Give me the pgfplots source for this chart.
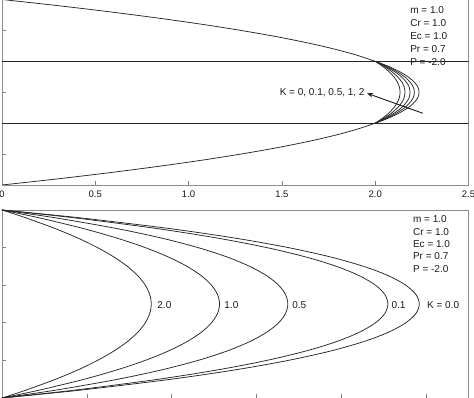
\documentclass[border=0pt]{standalone}
\usepackage{fontspec}
\setmainfont{Liberation Sans}
\usepackage{pgfplots}
\pgfplotsset{compat=1.18}
\usetikzlibrary{arrows.meta}

\begin{document}
\begin{tikzpicture}
\tikzset{lab/.style={font=\fontsize{10}{12}\selectfont, text=black!90, inner sep=0pt}}
\pgfplotsset{
  every axis/.append style={scale only axis,
    axis line style={black!45, line width=0.8pt},
    tick style={black!50, line width=0.6pt},
    tick align=inside, major tick length=4pt, tick pos=left,
    /pgf/number format/assume math mode=true,
    tick label style={font=\fontsize{9.5}{11}\selectfont, text=black!90}},
  curve/.style={black!85, line width=0.75pt, smooth, no markers},
}
% ---------------- top panel ----------------
\begin{axis}[at={(2pt,213pt)}, anchor=south west, width=466.5pt, height=185.5pt,
  xmin=0, xmax=2.5, ymin=0, ymax=3,
  xtick={0,0.5,1,1.5,2,2.5}, xticklabels={0,0.5,1.0,1.5,2.0,2.5},
  ytick={0.5,1,1.5,2,2.5}, yticklabels={},
  xticklabel style={yshift=-2pt}]
\addplot[black!85, line width=1pt] coordinates {(0,2) (2.5,2)};
\addplot[black!85, line width=1pt] coordinates {(0,1) (2.5,1)};
\addplot[curve] coordinates {(0,3) (0.301,2.9) (0.579,2.8) (0.835,2.7) (1.069,2.6) (1.28,2.5) (1.469,2.4) (1.635,2.3) (1.779,2.2) (1.901,2.1) (2,2)};
\addplot[curve] coordinates {(0,0) (0.301,0.1) (0.579,0.2) (0.835,0.3) (1.069,0.4) (1.28,0.5) (1.469,0.6) (1.635,0.7) (1.779,0.8) (1.901,0.9) (2,1)};
% K = 0
\addplot[curve] coordinates {(2,2) (2.045,1.95) (2.085,1.9) (2.120,1.85) (2.150,1.8) (2.176,1.75) (2.197,1.7) (2.214,1.65) (2.226,1.6) (2.233,1.55) (2.235,1.5) (2.233,1.45) (2.226,1.4) (2.214,1.35) (2.197,1.3) (2.176,1.25) (2.150,1.2) (2.120,1.15) (2.085,1.1) (2.045,1.05) (2,1)};
% K = 0.1
\addplot[curve] coordinates {(2,2) (2.040,1.95) (2.076,1.9) (2.107,1.85) (2.134,1.8) (2.158,1.75) (2.176,1.7) (2.191,1.65) (2.202,1.6) (2.208,1.55) (2.21,1.5) (2.208,1.45) (2.202,1.4) (2.191,1.35) (2.176,1.3) (2.158,1.25) (2.134,1.2) (2.107,1.15) (2.076,1.1) (2.040,1.05) (2,1)};
% K = 0.5
\addplot[curve] coordinates {(2,2) (2.036,1.95) (2.067,1.9) (2.095,1.85) (2.120,1.8) (2.140,1.75) (2.157,1.7) (2.170,1.65) (2.180,1.6) (2.185,1.55) (2.187,1.5) (2.185,1.45) (2.180,1.4) (2.170,1.35) (2.157,1.3) (2.140,1.25) (2.120,1.2) (2.095,1.15) (2.067,1.1) (2.036,1.05) (2,1)};
% K = 1
\addplot[curve] coordinates {(2,2) (2.030,1.95) (2.058,1.9) (2.082,1.85) (2.102,1.8) (2.12,1.75) (2.134,1.7) (2.146,1.65) (2.154,1.6) (2.158,1.55) (2.16,1.5) (2.158,1.45) (2.154,1.4) (2.146,1.35) (2.134,1.3) (2.12,1.25) (2.102,1.2) (2.082,1.15) (2.058,1.1) (2.030,1.05) (2,1)};
% K = 2
\addplot[curve] coordinates {(2,2) (2.025,1.95) (2.048,1.9) (2.068,1.85) (2.085,1.8) (2.100,1.75) (2.112,1.7) (2.121,1.65) (2.128,1.6) (2.132,1.55) (2.133,1.5) (2.132,1.45) (2.128,1.4) (2.121,1.35) (2.112,1.3) (2.100,1.25) (2.085,1.2) (2.068,1.15) (2.048,1.1) (2.025,1.05) (2,1)};
\draw[black!90, line width=0.9pt, -{Stealth[length=6pt,width=4.5pt]}] (axis cs:2.255,1.16) -- (axis cs:1.956,1.483);
\node[lab, anchor=east] at (axis cs:1.944,1.496) {K = 0, 0.1, 0.5, 1, 2};
\node[lab, anchor=west] at (axis cs:2.187,2.83) {m = 1.0};
\node[lab, anchor=west] at (axis cs:2.187,2.62) {Cr = 1.0};
\node[lab, anchor=west] at (axis cs:2.187,2.41) {Ec = 1.0};
\node[lab, anchor=west] at (axis cs:2.187,2.20) {Pr = 0.7};
\node[lab, anchor=west] at (axis cs:2.187,1.99) {P = -2.0};
\end{axis}
% ---------------- bottom panel ----------------
\begin{axis}[at={(2pt,0pt)}, anchor=south west, width=466.5pt, height=188pt,
  xmin=0, xmax=5.5, ymin=0, ymax=5,
  xtick={1,2,3,4,5}, xticklabels={},
  ytick={1,2,3,4}, yticklabels={}]
% K = 0
\addplot[curve] coordinates {(0,5) (0.566,4.875) (1.086,4.75) (1.998,4.5) (2.755,4.25) (3.376,4) (3.875,3.75) (4.265,3.5) (4.558,3.25) (4.761,3) (4.881,2.75) (4.92,2.5) (4.881,2.25) (4.761,2) (4.558,1.75) (4.265,1.5) (3.875,1.25) (3.376,1) (2.755,0.75) (1.998,0.5) (1.086,0.25) (0.566,0.125) (0,0)};
% K = 0.1
\addplot[curve] coordinates {(0,5) (0.524,4.875) (1.005,4.75) (1.848,4.5) (2.548,4.25) (3.122,4) (3.583,3.75) (3.944,3.5) (4.215,3.25) (4.403,3) (4.514,2.75) (4.55,2.5) (4.514,2.25) (4.403,2) (4.215,1.75) (3.944,1.5) (3.583,1.25) (3.122,1) (2.548,0.75) (1.848,0.5) (1.005,0.25) (0.524,0.125) (0,0)};
% K = 0.5
\addplot[curve] coordinates {(0,5) (0.388,4.875) (0.744,4.75) (1.369,4.5) (1.887,4.25) (2.312,4) (2.654,3.75) (2.921,3.5) (3.122,3.25) (3.261,3) (3.343,2.75) (3.37,2.5) (3.343,2.25) (3.261,2) (3.122,1.75) (2.921,1.5) (2.654,1.25) (2.312,1) (1.887,0.75) (1.369,0.5) (0.744,0.25) (0.388,0.125) (0,0)};
% K = 1.0
\addplot[curve] coordinates {(0,5) (0.268,4.875) (0.519,4.75) (0.971,4.5) (1.359,4.25) (1.689,4) (1.962,3.75) (2.182,3.5) (2.351,3.25) (2.470,3) (2.541,2.75) (2.565,2.5) (2.541,2.25) (2.470,2) (2.351,1.75) (2.182,1.5) (1.962,1.25) (1.689,1) (1.359,0.75) (0.971,0.5) (0.519,0.25) (0.268,0.125) (0,0)};
% K = 2.0
\addplot[curve] coordinates {(0,5) (0.172,4.875) (0.334,4.75) (0.634,4.5) (0.898,4.25) (1.126,4) (1.32,3.75) (1.478,3.5) (1.602,3.25) (1.690,3) (1.742,2.75) (1.76,2.5) (1.742,2.25) (1.690,2) (1.602,1.75) (1.478,1.5) (1.32,1.25) (1.126,1) (0.898,0.75) (0.634,0.5) (0.334,0.25) (0.172,0.125) (0,0)};
\node[lab, anchor=west] at (axis cs:1.83,2.47) {2.0};
\node[lab, anchor=west] at (axis cs:2.62,2.47) {1.0};
\node[lab, anchor=west] at (axis cs:3.42,2.47) {0.5};
\node[lab, anchor=west] at (axis cs:4.59,2.47) {0.1};
\node[lab, anchor=west] at (axis cs:5.01,2.47) {K = 0.0};
\node[lab, anchor=west] at (axis cs:4.844,4.753) {m = 1.0};
\node[lab, anchor=west] at (axis cs:4.844,4.423) {Cr = 1.0};
\node[lab, anchor=west] at (axis cs:4.844,4.093) {Ec = 1.0};
\node[lab, anchor=west] at (axis cs:4.844,3.763) {Pr = 0.7};
\node[lab, anchor=west] at (axis cs:4.844,3.433) {P = -2.0};
\end{axis}
\pgfresetboundingbox
\useasboundingbox (0,0) rectangle (474pt,398pt);
\end{tikzpicture}
\end{document}
